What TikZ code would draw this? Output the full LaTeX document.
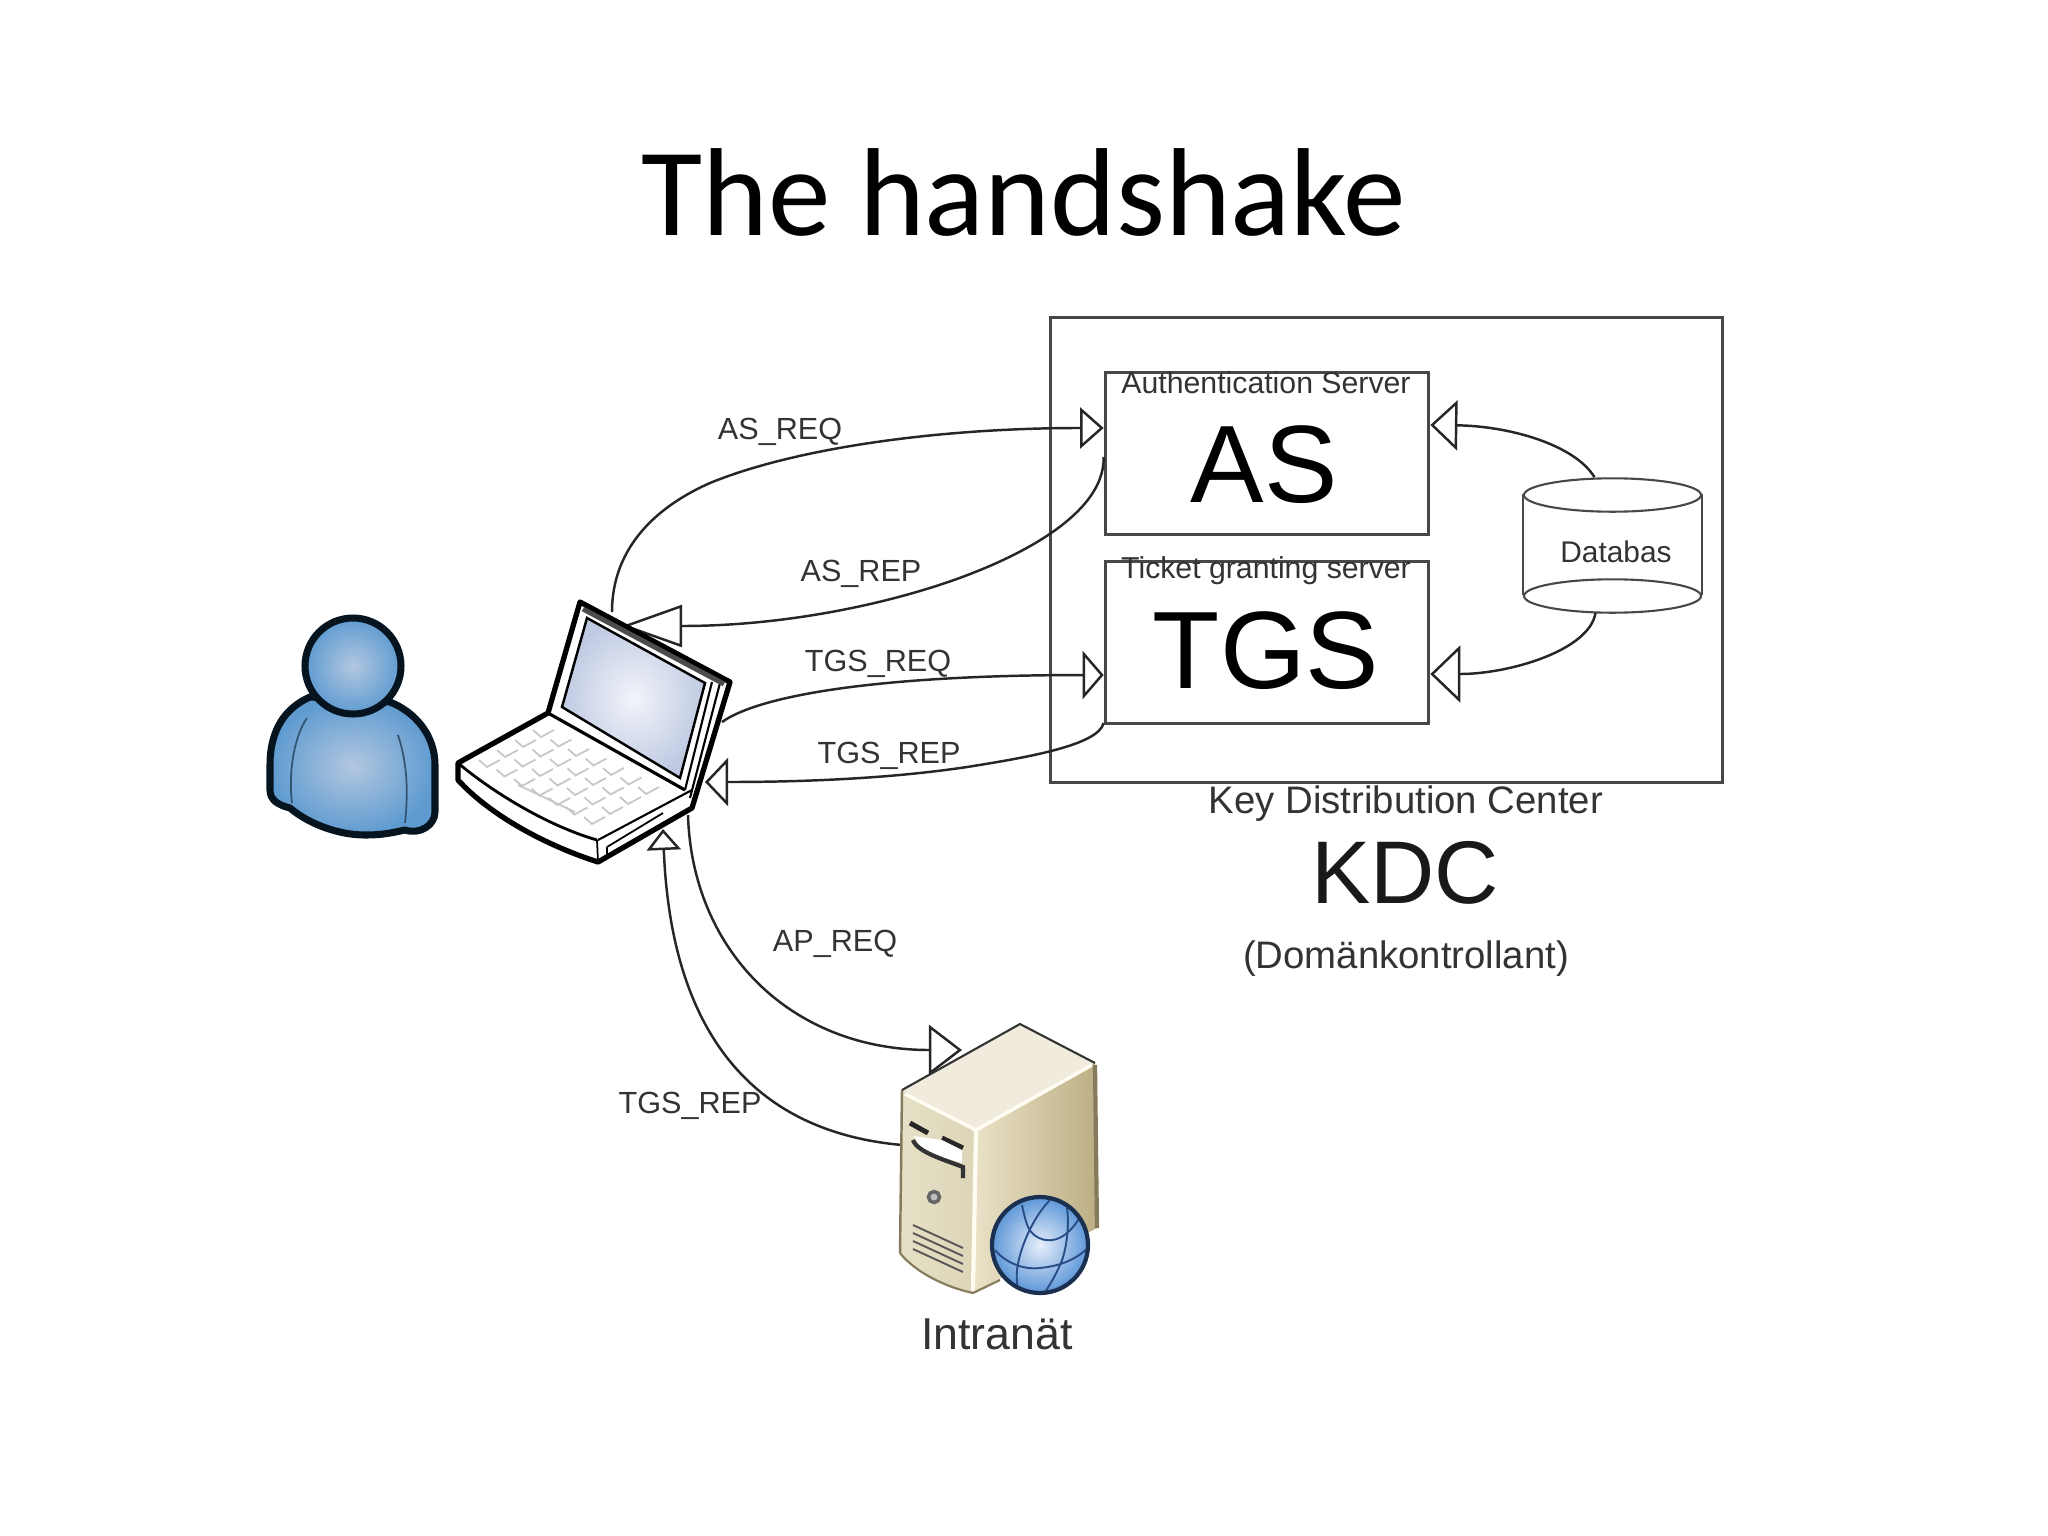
\documentclass[tikz,border=0pt]{standalone}
\usepackage{fontspec}
\setmainfont{Liberation Sans}
\newfontfamily\titlefont{Carlito}
\usetikzlibrary{arrows.meta}
\definecolor{edge}{HTML}{484848}
\definecolor{lbl}{HTML}{333333}
\definecolor{personout}{HTML}{5F9BD0}
\definecolor{personin}{HTML}{B2C7E0}
\definecolor{personln}{HTML}{06141F}
\definecolor{screenin}{HTML}{F2F4FA}
\definecolor{screenout}{HTML}{BFCAE2}
\definecolor{srvtop}{HTML}{F0EBDC}
\definecolor{srvglow}{HTML}{FFFDF2}
\definecolor{srvfrontA}{HTML}{E6E0C6}
\definecolor{srvfrontB}{HTML}{DCD5B8}
\definecolor{srvsideA}{HTML}{EAE2C8}
\definecolor{srvsideB}{HTML}{BDAE84}
\definecolor{srvstrip}{HTML}{857B5C}
\definecolor{globein}{HTML}{E6EEFA}
\definecolor{globeout}{HTML}{5E97D8}
\definecolor{globeln}{HTML}{2A4F88}
\definecolor{globerim}{HTML}{1B3050}
\tikzset{
  box/.style={draw=edge,line width=.85pt,inner sep=0pt,minimum width=3.235cm},
  flow/.style={draw=black!85,line width=.7pt},
  openhead/.style 2 args={-{Triangle[open,fill=white,length=#1,width=#2]}},
  lab/.style={font=\fontsize{8.7}{10}\selectfont,text=lbl,inner sep=0pt},
  boxcap/.style={font=\fontsize{8.6}{10}\selectfont,text=lbl,inner sep=0pt},
  kdclab/.style={font=\fontsize{10.9}{12}\selectfont,text=lbl,inner sep=0pt},
  bigtext/.style={font=\fontsize{31.3}{33}\selectfont,text=black,inner sep=0pt},
  lapline/.style={draw=black,line width=1.5pt,line join=round},
  keyline/.style={draw=black!22,line width=.5pt},
  srvedge/.style={draw=black!80,line width=.6pt,line join=round},
}
\begin{document}
\begin{tikzpicture}[x=.01cm,y=-.01cm]
\useasboundingbox (0,0) rectangle (2048,1536);
\fill[white] (0,0) rectangle (2048,1536);
\node[inner sep=0pt,font=\titlefont\fontsize{35.6}{38}\selectfont] (title) at (1024,192) {The handshake};
% KDC
\node[draw=edge,line width=.85pt,inner sep=0pt,minimum width=6.71cm,minimum height=4.64cm] (kdc) at (1386.5,550) {};
\node[box,minimum height=1.61cm] (as) at (1267,453.5) {};
\node[box,minimum height=1.61cm] (tgs) at (1267,642.5) {};
\node[boxcap] (ascap) at (1266,383) {Authentication Server};
\node[boxcap] (tgscap) at (1266,571) {Ticket granting server};
\node[bigtext] (astext) at (1264,465) {AS};
\node[bigtext] (tgstext) at (1266,651) {TGS};
% database
\node[inner sep=0pt,minimum width=1.77cm,minimum height=1.34cm] (db) at (1612.5,545) {};
\node[inner sep=0pt,font=\fontsize{8.5}{10}\selectfont,text=lbl] (dbtext) at (1616,552) {Databas};
\draw[edge,line width=.6pt] (db.north west) ++(0,17) -- ++(0,101) (db.north east) ++(0,17) -- ++(0,101);
\draw[edge,line width=.6pt] (1612.5,495) ellipse (88.5 and 16.7);
\draw[edge,line width=.6pt] (1612.5,596) ellipse (88.5 and 16.7);
% KDC labels
\node[kdclab] (kdccap) at (1406,804) {Key Distribution Center};
\node[inner sep=0pt,font=\fontsize{25.3}{27}\selectfont,text=black!90] (kdctext) at (1405,873) {KDC};
\node[kdclab] (dom) at (1406,959) {(Domänkontrollant)};
% message labels
\node[lab] (l1) at (780,432) {AS\_REQ};
\node[lab] (l2) at (861,574) {AS\_REP};
\node[lab] (l3) at (878,664) {TGS\_REQ};
\node[lab] (l4) at (889,756) {TGS\_REP};
\node[lab] (l5) at (835,944) {AP\_REQ};
\node[lab] (l6) at (690,1106) {TGS\_REP};
\node[inner sep=0pt,font=\fontsize{12.7}{14}\selectfont,text=lbl] (intra) at (997,1334) {Intranät};
% named ends on the icons
\coordinate (lapA) at (612,612);
\coordinate (lapB) at (622,626);
\coordinate (lapC) at (722,722);
\coordinate (lapD) at (705,782);
\coordinate (lapE) at (663,829);
\coordinate (lapF) at (688,815);
\coordinate (srvA) at (962,1050);
\coordinate (srvB) at (902,1145);
% connectors
\draw[flow,openhead={.235cm}{.41cm}] (lapA) .. controls (612,545) and (660,505) .. (710,483) .. controls (790,450) and (930,428) .. ([yshift=.255cm]as.west);
\draw[flow,openhead={.6cm}{.42cm}] ([yshift=-.035cm]as.west) .. controls (1105,520) and (1000,566) .. (933,587) .. controls (860,610) and (770,626) .. (lapB);
\draw[flow,openhead={.21cm}{.48cm}] (lapC) .. controls (760,695) and (880,675) .. ([yshift=-.325cm]tgs.west);
\draw[flow,openhead={.23cm}{.48cm}] ([yshift=-.805cm]tgs.west) .. controls (1098,745) and (1030,757) .. (967,767) .. controls (900,777) and (820,782) .. (lapD);
\draw[flow,openhead={.21cm}{.34cm}] (srvB) .. controls (735,1130) and (670,1010) .. (lapE);
\draw[flow,openhead={.33cm}{.5cm}] (lapF) .. controls (692,950) and (790,1050) .. (srvA);
\draw[flow,openhead={.27cm}{.5cm}] ([xshift=-.18cm]db.north) .. controls (1575,445) and (1510,426) .. ([yshift=.285cm]as.east);
\draw[flow,openhead={.3cm}{.57cm}] ([xshift=-.17cm]db.south) .. controls (1590,650) and (1510,674) .. ([yshift=-.315cm]tgs.east);
% person
\path[draw=personln,line width=2pt,line join=round,inner color=personin,outer color=personout]
 (310,697) .. controls (285,708) and (270,730) .. (270,765) -- (270,790)
 .. controls (270,800) and (278,805) .. (290,808) .. controls (310,825) and (340,835) .. (365,835)
 .. controls (385,835) and (395,832) .. (405,830) .. controls (420,835) and (435,825) .. (435,812)
 -- (435,765) .. controls (435,735) and (415,712) .. (390,702) -- cycle;
\draw[personout!55!black,line width=.5pt] (307,718) .. controls (295,735) and (288,770) .. (292,803);
\draw[personout!55!black,line width=.5pt] (398,735) .. controls (408,765) and (408,795) .. (405,823);
\path[draw=personln,line width=2pt,inner color=personin,outer color=personout] (353,666) circle (48);
% laptop
\path[lapline,fill=white] (548,713) -- (458,763) -- (458,780)
 .. controls (490,815) and (545,845) .. (598,862) -- (692,808) -- (730,682) -- (580,602) -- cycle;
\draw[black,line width=.8pt] (458,763) .. controls (490,790) and (545,825) .. (597,840);
\draw[black,line width=.5pt] (597,840) -- (598,862) (607,847) -- (607,857) (607,847) -- (663,813);
\draw[black,line width=.6pt] (598,840) -- (692,790);
\draw[black,line width=.9pt] (548,713) -- (685,790);
\draw[black,line width=.6pt] (720,683) -- (690,798) (712,682) -- (685,790);
\draw[black!70,line width=1.4pt] (583,609) -- (724,684);
\draw[black,line width=.7pt,inner color=screenin,outer color=screenout] (587,618) -- (705,683) -- (680,778) -- (562,707) -- cycle;
\foreach \i in {0,...,6}{\foreach \j in {0,...,3}{
  \draw[keyline] ({533+\i*17.5-\j*18},{730+\i*9.5+\j*10}) -- ++(8,7) -- ++(13,-7);
}}
\draw[keyline] (518,785) -- (575,812);
% server
\fill[srvtop] (902,1090) -- (1020,1024) -- (1095,1063) -- (976,1130) -- cycle;
\path[left color=srvfrontA,right color=srvfrontB] (902,1090) -- (976,1130) -- (973,1293) .. controls (945,1287) and (915,1272) .. (900,1253) -- cycle;
\path[left color=srvsideA,right color=srvsideB] (976,1130) -- (1095,1063) -- (1097,1228) -- (973,1293) -- cycle;
\draw[srvglow,line width=1pt,line join=round] (905,1094) -- (976,1130) -- (1092,1065);
\draw[srvglow,line width=1.2pt] (976,1130) -- (973,1291);
\draw[srvstrip,line width=1.2pt] (1095,1065) -- (1097,1228);
\draw[srvstrip,line width=.7pt] (902,1090) -- (900,1253);
\draw[srvstrip,line width=.6pt] (900,1253) .. controls (915,1272) and (945,1287) .. (973,1293) -- (1000,1280);
\draw[srvedge] (902,1090) -- (1020,1024) -- (1095,1063);
\draw[black!85,line width=1.4pt] (910,1123) -- (928,1133) (942,1138) -- (963,1148);
\fill[white] (913,1136) -- (942,1140) -- (962,1150) -- (962,1163) -- (925,1152) -- cycle;
\draw[black!80,line width=1.2pt] (913,1140) .. controls (917,1152) and (945,1160) .. (963,1167) -- (963,1178);
\draw[black!60,line width=1pt,fill=black!25] (934,1197) circle (5.5);
\foreach \k in {0,1,2,3}{\draw[black!65,line width=.55pt] (913,{1225+\k*8}) -- (963,{1248+\k*8});}
% globe
\path[inner color=globein,outer color=globeout] (1040,1245) circle (48);
\begin{scope}
\clip (1040,1245) circle (48);
\draw[globeln,line width=.55pt]
 (1022,1205) .. controls (1024,1215) and (1026,1222) .. (1028,1227) .. controls (1034,1240) and (1052,1246) .. (1067,1233) .. controls (1075,1226) and (1080,1218) .. (1082,1212)
 (995,1250) .. controls (1005,1262) and (1022,1270) .. (1040,1268) .. controls (1060,1266) and (1075,1260) .. (1088,1248)
 (1050,1200) .. controls (1035,1215) and (1020,1245) .. (1017,1270) .. controls (1016,1282) and (1018,1290) .. (1020,1296)
 (1067,1208) .. controls (1070,1230) and (1065,1255) .. (1060,1265) .. controls (1055,1277) and (1048,1287) .. (1043,1296);
\end{scope}
\draw[globerim,line width=1.2pt] (1040,1245) circle (48);
\end{tikzpicture}
\end{document}
